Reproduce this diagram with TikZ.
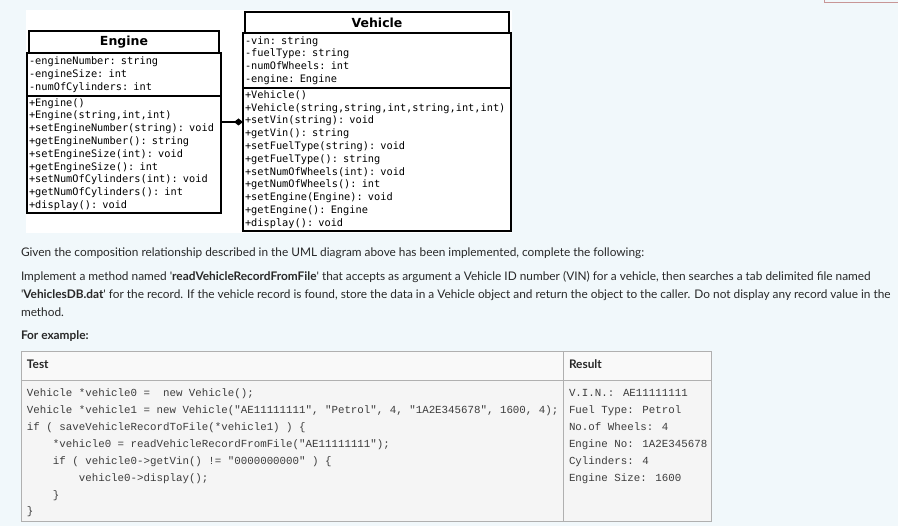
\documentclass[tikz,border=0pt]{standalone}
\usepackage{fontspec}
\newfontfamily\prosefont{Lato}
\newfontfamily\umlmono{DejaVu Sans Mono}
\newfontfamily\umlsans{DejaVu Sans}
\newfontfamily\codefont{Liberation Mono}
\usetikzlibrary{positioning, arrows.meta, shapes}

\definecolor{pagebg}{RGB}{241,248,251}
\definecolor{headbg}{RGB}{249,249,249}
\definecolor{bodybg}{RGB}{245,245,245}
\definecolor{tableline}{RGB}{176,176,176}
\definecolor{proseink}{RGB}{40,40,40}
\definecolor{codeink}{RGB}{60,60,60}
\definecolor{buttonedge}{RGB}{200,150,150}

\begin{document}
\begin{tikzpicture}[
			x=1pt, y=-1pt,
			every node/.style={inner sep=0pt, outer sep=0pt},
			umlhead/.style={draw, line width=1.3pt, fill=white, anchor=north, align=center, font=\umlsans\bfseries\fontsize{12.5}{14}\selectfont},
			umlpart/.style={draw, line width=1.3pt, fill=white, anchor=north, align=left, inner xsep=2pt, font=\umlmono\fontsize{10.3}{12.8}\selectfont},
			composition/.style={-{Diamond[length=9pt,width=7pt]}, line width=1.3pt},
			cell/.style={draw=tableline, line width=0.8pt, anchor=north west},
			prose/.style={anchor=base west, text=proseink, font=\prosefont\fontsize{11.85}{15}\selectfont},
			code/.style={anchor=base west, align=left, text=codeink, font=\codefont\fontsize{10.8}{16.9}\selectfont}
			]
			
			\useasboundingbox (0,0) rectangle (898,526);
			\fill[pagebg] (0,0) rectangle (898,526);
			\fill[white] (26,10) rectangle (512,233);
			\draw[buttonedge, line width=0.8pt] (824.5,0) -- (824.5,2) -- (898,2);
			
			% UML classes
			\node[umlhead, text width=190pt, minimum height=22pt] (engineName) at (124,31) {Engine};
			\node[umlpart, text width=190pt, minimum height=43pt, below=0pt of engineName] (engineAttr)
			{-engineNumber: string\\-engineSize: int\\-numOfCylinders: int};
			\node[umlpart, text width=190pt, minimum height=117pt, below=0pt of engineAttr] (engineOps)
			{+Engine()\\+Engine(string,int,int)\\+setEngineNumber(string): void\\+getEngineNumber(): string\\
				+setEngineSize(int): void\\+getEngineSize(): int\\+setNumOfCylinders(int): void\\
				+getNumOfCylinders(): int\\+display(): void};
			
			\node[umlhead, text width=264pt, minimum height=21pt] (vehicleName) at (377,12) {Vehicle};
			\node[umlpart, text width=264pt, minimum height=55pt, below=0pt of vehicleName] (vehicleAttr)
			{-vin: string\\-fuelType: string\\-numOfWheels: int\\-engine: Engine};
			\node[umlpart, text width=264pt, minimum height=143pt, below=0pt of vehicleAttr] (vehicleOps)
			{+Vehicle()\\+Vehicle(string,string,int,string,int,int)\\+setVin(string): void\\+getVin(): string\\
				+setFuelType(string): void\\+getFuelType(): string\\+setNumOfWheels(int): void\\
				+getNumOfWheels(): int\\+setEngine(Engine): void\\+getEngine(): Engine\\+display(): void};
			
			\draw[composition] ([yshift=32.5pt]engineOps.east) coordinate (joint) -- (joint -| vehicleOps.west);
			
			% question text
			\node[prose] (given) at (21,257) {Given the composition relationship described in the UML diagram above has been implemented, complete the following:};
			\node[prose] (taskA) at (21,281) {Implement a method named '\textbf{readVehicleRecordFromFile}' that accepts as argument a Vehicle ID number (VIN) for a vehicle, then searches a tab delimited file named};
			\node[prose] (taskB) at (21,299) {'\textbf{VehiclesDB.dat}' for the record. If the vehicle record is found, store the data in a Vehicle object and return the object to the caller. Do not display any record value in the};
			\node[prose] (taskC) at (21,317) {method.};
			\node[prose] (forExample) at (21,340) {\bfseries For example:};
			
			% example table
			\node[cell, fill=headbg, minimum width=542pt, minimum height=29pt] (testHead) at (21,351) {};
			\node[cell, fill=headbg, minimum width=148pt, minimum height=29pt] (resultHead) at (563,351) {};
			\node[cell, fill=bodybg, minimum width=542pt, minimum height=141pt] (testBody) at (21,380) {};
			\node[cell, fill=bodybg, minimum width=148pt, minimum height=141pt] (resultBody) at (563,380) {};
			
			\node[prose] (testLabel) at (27,369) {\bfseries Test};
			\node[prose] (resultLabel) at (569,369) {\bfseries Result};
			
			% base anchor sits on the last line
			\node[code] (testCode) at (27,515)
			{Vehicle *vehicle0 = \ new Vehicle();\\
				Vehicle *vehicle1 = new Vehicle("AE11111111", "Petrol", 4, "1A2E345678", 1600, 4);\\
				if ( saveVehicleRecordToFile(*vehicle1) ) \{\\
				\phantom{xxxx}*vehicle0 = readVehicleRecordFromFile("AE11111111");\\
				\phantom{xxxx}if ( vehicle0->getVin() != "0000000000" ) \{\\
				\phantom{xxxxxxxx}vehicle0->display();\\
				\phantom{xxxx}\}\\
				\}};
			\node[code] (resultText) at (569,481.5)
			{V.I.N.: AE11111111\\Fuel Type: Petrol\\No.of Wheels: 4\\Engine No: 1A2E345678\\Cylinders: 4\\Engine Size: 1600};
			
			\end{tikzpicture}
\end{document}
